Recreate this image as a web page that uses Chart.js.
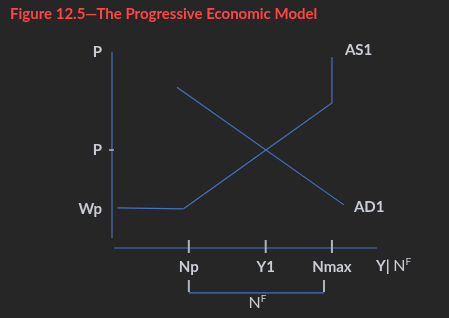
<!DOCTYPE html>
<html>
<head>
<meta charset="utf-8">
<script src="https://cdn.jsdelivr.net/npm/chart.js@4.4.1/dist/chart.umd.min.js"></script>
<style>
  html, body { margin: 0; padding: 0; background: #262626; }
  #wrap { position: relative; width: 449px; height: 318px; }
</style>
</head>
<body>
<div id="wrap"><canvas id="grafico"></canvas></div>
<script>
// valores do modelo (unidades 0-100 em cada eixo)
const eixoX = [29, 58, 83];
const rotulosX = ["Np", "Y1", "Nmax"];
const eixoY = [20, 50, 100];
const rotulosY = ["Wp", "P", "P"];

const linhaEixoY = [[0, 5], [0, 100]];
const linhaEixoX = [[0.8, 0], [100, 0]];
const curvaWp = [[2, 20.5], [27, 20]];
const curvaAS = [[27, 20], [83, 74], [83, 97.5]];
const curvaAD = [[24.5, 82], [87.5, 22]];
const chave = [29, 80];        // colchete N^F (de Np até o fim)
const chaveY = [-16.3, -22.9]; // topo das hastes, barra do colchete

const azul = "#4472c4";
const cinza = "#aeb3bd";
const corTexto = "#c9cdd6";
const fonte = "Lato";

const pontos = arr => arr.map(p => ({ x: p[0], y: p[1] }));

const anotacoes = {
  id: "anotacoes",
  afterDatasetsDraw(chart) {
    const { ctx, chartArea, scales: { x, y } } = chart;
    ctx.save();

    // marcas no eixo X
    ctx.strokeStyle = cinza;
    ctx.lineWidth = 2;
    eixoX.forEach(v => {
      const px = x.getPixelForValue(v);
      ctx.beginPath();
      ctx.moveTo(px, chartArea.bottom - 8);
      ctx.lineTo(px, chartArea.bottom + 5);
      ctx.stroke();
    });

    // marca do P no eixo Y
    const pp = y.getPixelForValue(50);
    ctx.lineWidth = 1.5;
    ctx.beginPath();
    ctx.moveTo(chartArea.left - 3, pp);
    ctx.lineTo(chartArea.left + 2, pp);
    ctx.stroke();

    ctx.fillStyle = corTexto;
    ctx.textBaseline = "middle";
    ctx.textAlign = "left";
    ctx.font = "bold 15px " + fonte;

    const topoAS = curvaAS[curvaAS.length - 1];
    ctx.fillText("AS1", x.getPixelForValue(topoAS[0]) + 13, y.getPixelForValue(topoAS[1]) - 7);
    const fimAD = curvaAD[curvaAD.length - 1];
    ctx.fillText("AD1", x.getPixelForValue(fimAD[0]) + 10, y.getPixelForValue(fimAD[1]) + 2);

    // Y| N^F no fim do eixo
    let xx = chartArea.right - 1;
    const yy = chartArea.bottom + 18;
    ctx.fillText("Y|", xx, yy);
    xx += ctx.measureText("Y| ").width;
    ctx.font = "16px " + fonte;
    ctx.fillText("N", xx, yy);
    xx += ctx.measureText("N").width;
    ctx.font = "10px " + fonte;
    ctx.fillText("F", xx, yy - 4);

    // N^F abaixo do colchete
    const meio = (x.getPixelForValue(chave[0]) + x.getPixelForValue(chave[1])) / 2;
    const yb = y.getPixelForValue(chaveY[1]) + 10;
    ctx.font = "16px " + fonte;
    const wn = ctx.measureText("N").width;
    ctx.fillText("N", meio - 8, yb);
    ctx.font = "10px " + fonte;
    ctx.fillText("F", meio - 8 + wn, yb - 4);

    ctx.restore();
  }
};

new Chart(document.getElementById("grafico"), {
  type: "scatter",
  data: {
    datasets: [
      { data: pontos(linhaEixoY), borderColor: azul, clip: false },
      { data: pontos(linhaEixoX), borderColor: azul, clip: false },
      { data: pontos(curvaWp), borderColor: azul },
      { data: pontos(curvaAS), borderColor: azul },
      { data: pontos(curvaAD), borderColor: azul },
      { data: [{ x: chave[0], y: chaveY[1] }, { x: chave[1], y: chaveY[1] }], borderColor: azul, clip: false },
      { data: [{ x: chave[0], y: chaveY[0] }, { x: chave[0], y: chaveY[1] + 0.5 }], borderColor: cinza, borderWidth: 2, clip: false },
      { data: [{ x: chave[1], y: chaveY[0] }, { x: chave[1], y: chaveY[1] + 0.5 }], borderColor: cinza, borderWidth: 2, clip: false }
    ]
  },
  options: {
    responsive: true,
    maintainAspectRatio: false,
    animation: false,
    showLine: true,
    elements: {
      point: { radius: 0, hoverRadius: 0 },
      line: { borderWidth: 1.2, tension: 0 }
    },
    layout: { padding: { left: 10, right: 72, top: 0, bottom: 0 } },
    plugins: {
      legend: { display: false },
      tooltip: { enabled: false },
      title: {
        display: true,
        text: "Figure 12.5\u2014The Progressive Economic Model",
        align: "start",
        color: "#ff4545",
        font: { family: fonte, size: 15, weight: "bold" },
        padding: { top: 5, bottom: 29 }
      }
    },
    scales: {
      x: {
        type: "linear",
        min: 0,
        max: 100,
        afterBuildTicks: s => { s.ticks = eixoX.map(v => ({ value: v })); },
        afterFit: s => { s.height = 70; },
        grid: { display: false, drawTicks: false },
        border: { display: false },
        ticks: {
          autoSkip: false,
          maxRotation: 0,
          padding: 10,
          color: corTexto,
          font: { family: fonte, size: 15, weight: "bold" },
          callback: v => rotulosX[eixoX.indexOf(v)]
        }
      },
      y: {
        type: "linear",
        min: 0,
        max: 100,
        afterBuildTicks: s => { s.ticks = eixoY.map(v => ({ value: v })); },
        afterFit: s => { s.width = 102; },
        grid: { display: false, drawTicks: false },
        border: { display: false },
        ticks: {
          autoSkip: false,
          padding: 10,
          color: corTexto,
          font: { family: fonte, size: 15, weight: "bold" },
          callback: v => rotulosY[eixoY.indexOf(v)]
        }
      }
    }
  },
  plugins: [anotacoes]
});
</script>
</body>
</html>
